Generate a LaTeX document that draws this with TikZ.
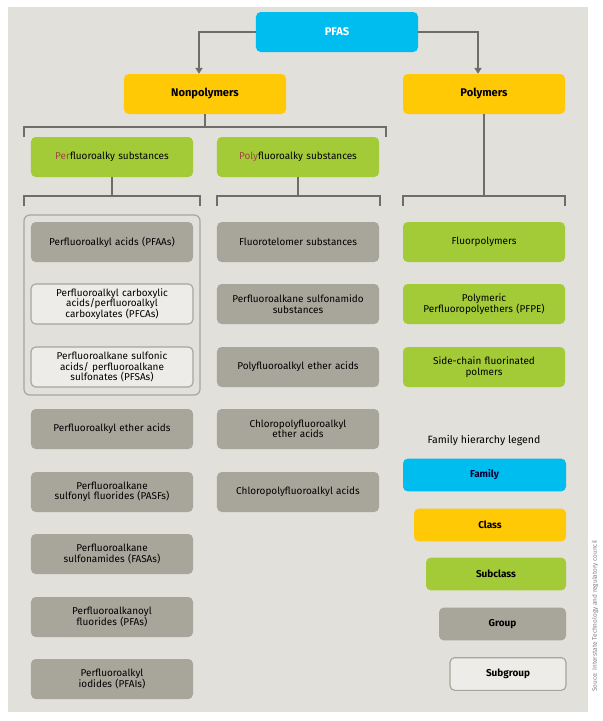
\documentclass[tikz,border=0pt]{standalone}
\usepackage{fontspec}
\setmainfont{Fira Sans}
\usetikzlibrary{arrows.meta}
\definecolor{panel}{HTML}{E1E0DA}
\definecolor{famblue}{HTML}{00BDEF}
\definecolor{classyellow}{HTML}{FFC905}
\definecolor{subgreen}{HTML}{A3CB38}
\definecolor{groupgray}{HTML}{A8A59B}
\definecolor{linegray}{HTML}{6E6E66}
\definecolor{perred}{HTML}{9A4A3A}

\begin{document}
\begin{tikzpicture}[x=0.03cm, y=-0.03cm,
    box/.style={rounded corners=4pt, align=center, font=\fontsize{8.5}{9}\selectfont, inner sep=1pt, minimum height=1.2cm, text width=4.6cm, minimum width=4.86cm},
    family/.style={box, fill=famblue, text=white, font=\fontsize{9.5}{10}\selectfont\bfseries},
    class/.style={box, fill=classyellow, font=\fontsize{9.5}{10}\selectfont\bfseries},
    subclass/.style={box, fill=subgreen},
    group/.style={box, fill=groupgray},
    subgroup/.style={box, fill=panel!60!white, draw=groupgray, line width=1pt},
    legendbox/.style={minimum height=0.98cm, font=\fontsize{8.5}{9}\selectfont\bfseries},
    tree/.style={draw=linegray, line width=1.4pt}]
    \fill [white] (0, 0) rectangle (600, 721); % bounding box
    \fill [panel] (8, 7) rectangle (588, 712);

    % family and classes
    \node at (337,  32) [family] (pfas)  {PFAS};
    \node at (205,  94) [class]  (nonpol) {Nonpolymers};
    \node at (484,  94) [class]  (pol)    {Polymers};

    % subclasses
    \node at (112, 157) [subclass] (perf) {\textcolor{perred}{Per}fluoroalky substances};
    \node at (298, 157) [subclass] (polyf) {\textcolor{perred}{Poly}fluoroalky substances};

    % perfluoroalkyl groups
    \draw [groupgray, line width=1pt, rounded corners=5pt] (24, 215) rectangle (200, 395);
    \node at (112, 242) [group]    (pfaa)  {Perfluoroalkyl acids (PFAAs)};
    \node at (112, 304) [subgroup] (pfca)  {Perfluoroalkyl carboxylic\\acids/perfluoroalkyl\\carboxylates (PFCAs)};
    \node at (112, 367) [subgroup] (pfsa)  {Perfluoroalkane sulfonic\\acids/ perfluoroalkane\\sulfonates (PFSAs)};
    \node at (112, 429) [group]    (pfea)  {Perfluoroalkyl ether acids};
    \node at (112, 492) [group]    (pasf)  {Perfluoroalkane\\sulfonyl fluorides (PASFs)};
    \node at (112, 554) [group]    (fasa)  {Perfluoroalkane\\sulfonamides (FASAs)};
    \node at (112, 617) [group]    (pfaf)  {Perfluoroalkanoyl\\fluorides (PFAs)};
    \node at (112, 679) [group]    (pfai)  {Perfluoroalkyl\\iodides (PFAIs)};

    % polyfluoroalkyl groups
    \node at (298, 242) [group] (ftel)  {Fluorotelomer substances};
    \node at (298, 304) [group] (psam)  {Perfluoroalkane sulfonamido\\substances};
    \node at (298, 367) [group] (pyea)  {Polyfluoroalkyl ether acids};
    \node at (298, 429) [group] (cpea)  {Chloropolyfluoroalkyl\\ether acids};
    \node at (298, 492) [group] (cpaa)  {Chloropolyfluoroalkyl acids};

    % polymer groups
    \node at (484, 242) [subclass] (fpol) {Fluorpolymers};
    \node at (484, 304) [subclass] (pfpe) {Polymeric\\Perfluoropolyethers (PFPE)};
    \node at (484, 367) [subclass] (scfp) {Side-chain fluorinated\\polmers};

    % legend
    \node at (484, 441) [font=\fontsize{9}{9}\selectfont] (legend) {Family hierarchy legend};
    \node at (484.5, 475) [family,   legendbox, text width=4.7cm,  minimum width=4.89cm, text=black!80!blue] (lfam) {Family};
    \node at (490,   525) [class,    legendbox, text width=4.4cm,  minimum width=4.56cm] (lcls) {Class};
    \node at (496,   574) [subclass, legendbox, text width=4.0cm,  minimum width=4.2cm]  (lsub) {Subclass};
    \node at (502.5, 624) [group,    legendbox, text width=3.6cm,  minimum width=3.81cm] (lgrp) {Group};
    \node at (508,   674) [subgroup, legendbox, text width=3.3cm,  minimum width=3.48cm] (lsgr) {Subgroup};

    % source
    \node at (595, 616) [rotate=90, font=\fontsize{5.5}{6}\selectfont, text=gray] (src) {Souce: Interstate Technology and regulatory council};

    % arrows from family
    \begin{scope}[every path/.style={tree, -{Triangle[length=5pt, width=6pt]}}]
        \draw (pfas.west) -| (nonpol.north -| 199, 0);
        \draw (pfas.east) -| (pol.north -| 478, 0);
    \end{scope}

    % brackets
    \begin{scope}[every path/.style={tree}]
        \draw (nonpol.south) -- ++(0, 13);
        \draw (24, 137) -- (24, 127) -- (386, 127) -- (386, 137);
        \draw (perf.south) -- ++(0, 19);
        \draw (24, 206) -- (24, 196) -- (200, 196) -- (200, 206);
        \draw (polyf.south) -- ++(0, 19);
        \draw (217, 206) -- (217, 196) -- (380, 196) -- (380, 206);
        \draw (pol.south) -- (pol.south |- 0, 196);
        \draw (403, 206) -- (403, 196) -- (565, 196) -- (565, 206);
    \end{scope}
\end{tikzpicture}
\end{document}
